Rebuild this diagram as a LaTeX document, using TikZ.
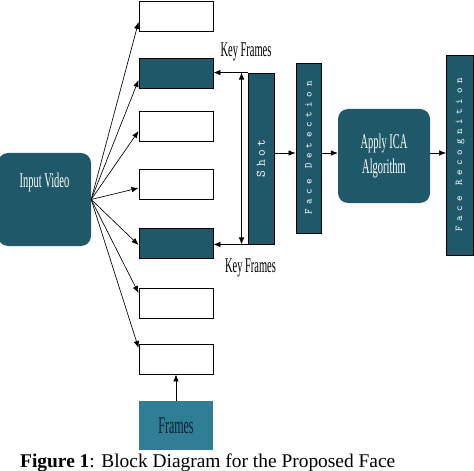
\documentclass[tikz,border=0pt]{standalone}
\usepackage{fontspec}
\setmainfont{Liberation Serif}
\newfontfamily\condfont[FakeStretch=0.5]{Liberation Serif}
\newfontfamily\monoA[LetterSpace=45]{Latin Modern Mono}
\newfontfamily\monoB[LetterSpace=28]{Latin Modern Mono}
\usetikzlibrary{arrows.meta}
\definecolor{darkteal}{RGB}{31,88,104}
\definecolor{lightteal}{RGB}{47,126,150}
\definecolor{navytext}{RGB}{15,30,50}
\begin{document}
\begin{tikzpicture}[x=1bp,y=-1bp,
  framebox/.style={draw=black,line width=0.9bp,minimum width=74bp,minimum height=30bp,inner sep=0pt,fill=white},
  keybox/.style={framebox,fill=darkteal},
  tallbox/.style={draw=black,line width=0.9bp,fill=darkteal,inner sep=0pt,text=white},
  roundbox/.style={fill=darkteal,rounded corners=10bp,inner sep=0pt,text=white},
  arr/.style={-{Latex[length=7bp,width=5.5bp]},line width=0.65bp},
  dblarr/.style={{Latex[length=7bp,width=5.5bp]}-{Latex[length=7bp,width=5.5bp]},line width=0.65bp},
  condtext/.style={font=\condfont\fontsize{21}{21}\selectfont},
]
\useasboundingbox (0,0) rectangle (474,471);

% frame boxes
\node[framebox] (f1) at (176,16) {};
\node[keybox]   (f2) at (176,73) {};
\node[framebox] (f3) at (176,126.5) {};
\node[framebox] (f4) at (176,184.5) {};
\node[keybox]   (f5) at (176,243.5) {};
\node[framebox] (f6) at (176,303.5) {};
\node[framebox] (f7) at (176,359) {};
\node[draw=none,fill=lightteal,minimum width=74bp,minimum height=49bp,inner sep=0pt,
      text=navytext,font=\condfont\fontsize{24}{24}\selectfont] (fr) at (176,425.5) {Frames};

% input video
\node[roundbox,minimum width=93bp,minimum height=93bp,
      label={[text=white,condtext,yshift=17bp]center:Input Video}] (iv) at (44.5,199.5) {};

% shot
\node[tallbox,minimum width=26bp,minimum height=171bp] (shot) at (261,158.5)
  {\rotatebox{90}{\monoB\fontsize{13}{13}\selectfont Shot}};

% face detection
\node[tallbox,minimum width=25bp,minimum height=170bp] (fd) at (308.5,148)
  {\rotatebox{90}{\monoA\fontsize{10.5}{10.5}\selectfont Face Detection}};

% ICA
\node[roundbox,minimum width=92bp,minimum height=94bp,align=center,
      font=\condfont\fontsize{21}{26}\selectfont] (ica) at (384,156)
  {Apply ICA\\Algorithm};

% face recognition
\node[tallbox,minimum width=27bp,minimum height=200bp] (frec) at (460,155)
  {\rotatebox{90}{\monoA\fontsize{10.5}{10.5}\selectfont Face Recognition}};

% key frames labels
\node[condtext,anchor=base] (k1) at (246,57) {Key Frames};
\node[condtext,anchor=base] (k2) at (250.5,272) {Key Frames};

% caption
\node[anchor=base west,font=\fontsize{19.5}{19.5}\selectfont,inner sep=0pt] (cap) at (20,467.5)
  {\textbf{Figure 1}: Block Diagram for the Proposed Face};

% fan-out arrows
\draw[arr] (iv.east) -- ([yshift=-6bp]f1.west);
\draw[arr] (iv.east) -- ([yshift=-7bp]f2.west);
\draw[arr] (iv.east) -- ([yshift=-4.5bp]f3.west);
\draw[arr] (iv.east) -- ([yshift=-3.5bp]f4.west);
\draw[arr] (iv.east) -- ([yshift=-1.5bp]f5.west);
\draw[arr] (iv.east) -- ([yshift=10.5bp]f6.west);
\draw[arr] (iv.east) -- ([yshift=11bp]f7.west);

% frames up arrow
\draw[arr] (fr.north) -- (f7.south);

% key frame arrows
\draw[arr] (shot.north west) -- (shot.north west -| f2.east);
\draw[arr] (shot.south west) -- (shot.south west -| f5.east);
\draw[dblarr] ([xshift=-6bp]shot.north west) -- ([xshift=-6bp]shot.south west);

% chain
\draw[arr] ([yshift=5.5bp]shot.east) -- ([yshift=5.5bp]shot.east -| fd.west);
\draw[arr] ([yshift=-5bp]fd.east) -- ([yshift=-5bp]fd.east -| ica.west);
\draw[arr] ([yshift=3bp]ica.east) -- ([yshift=3bp]ica.east -| frec.west);
\end{tikzpicture}
\end{document}
